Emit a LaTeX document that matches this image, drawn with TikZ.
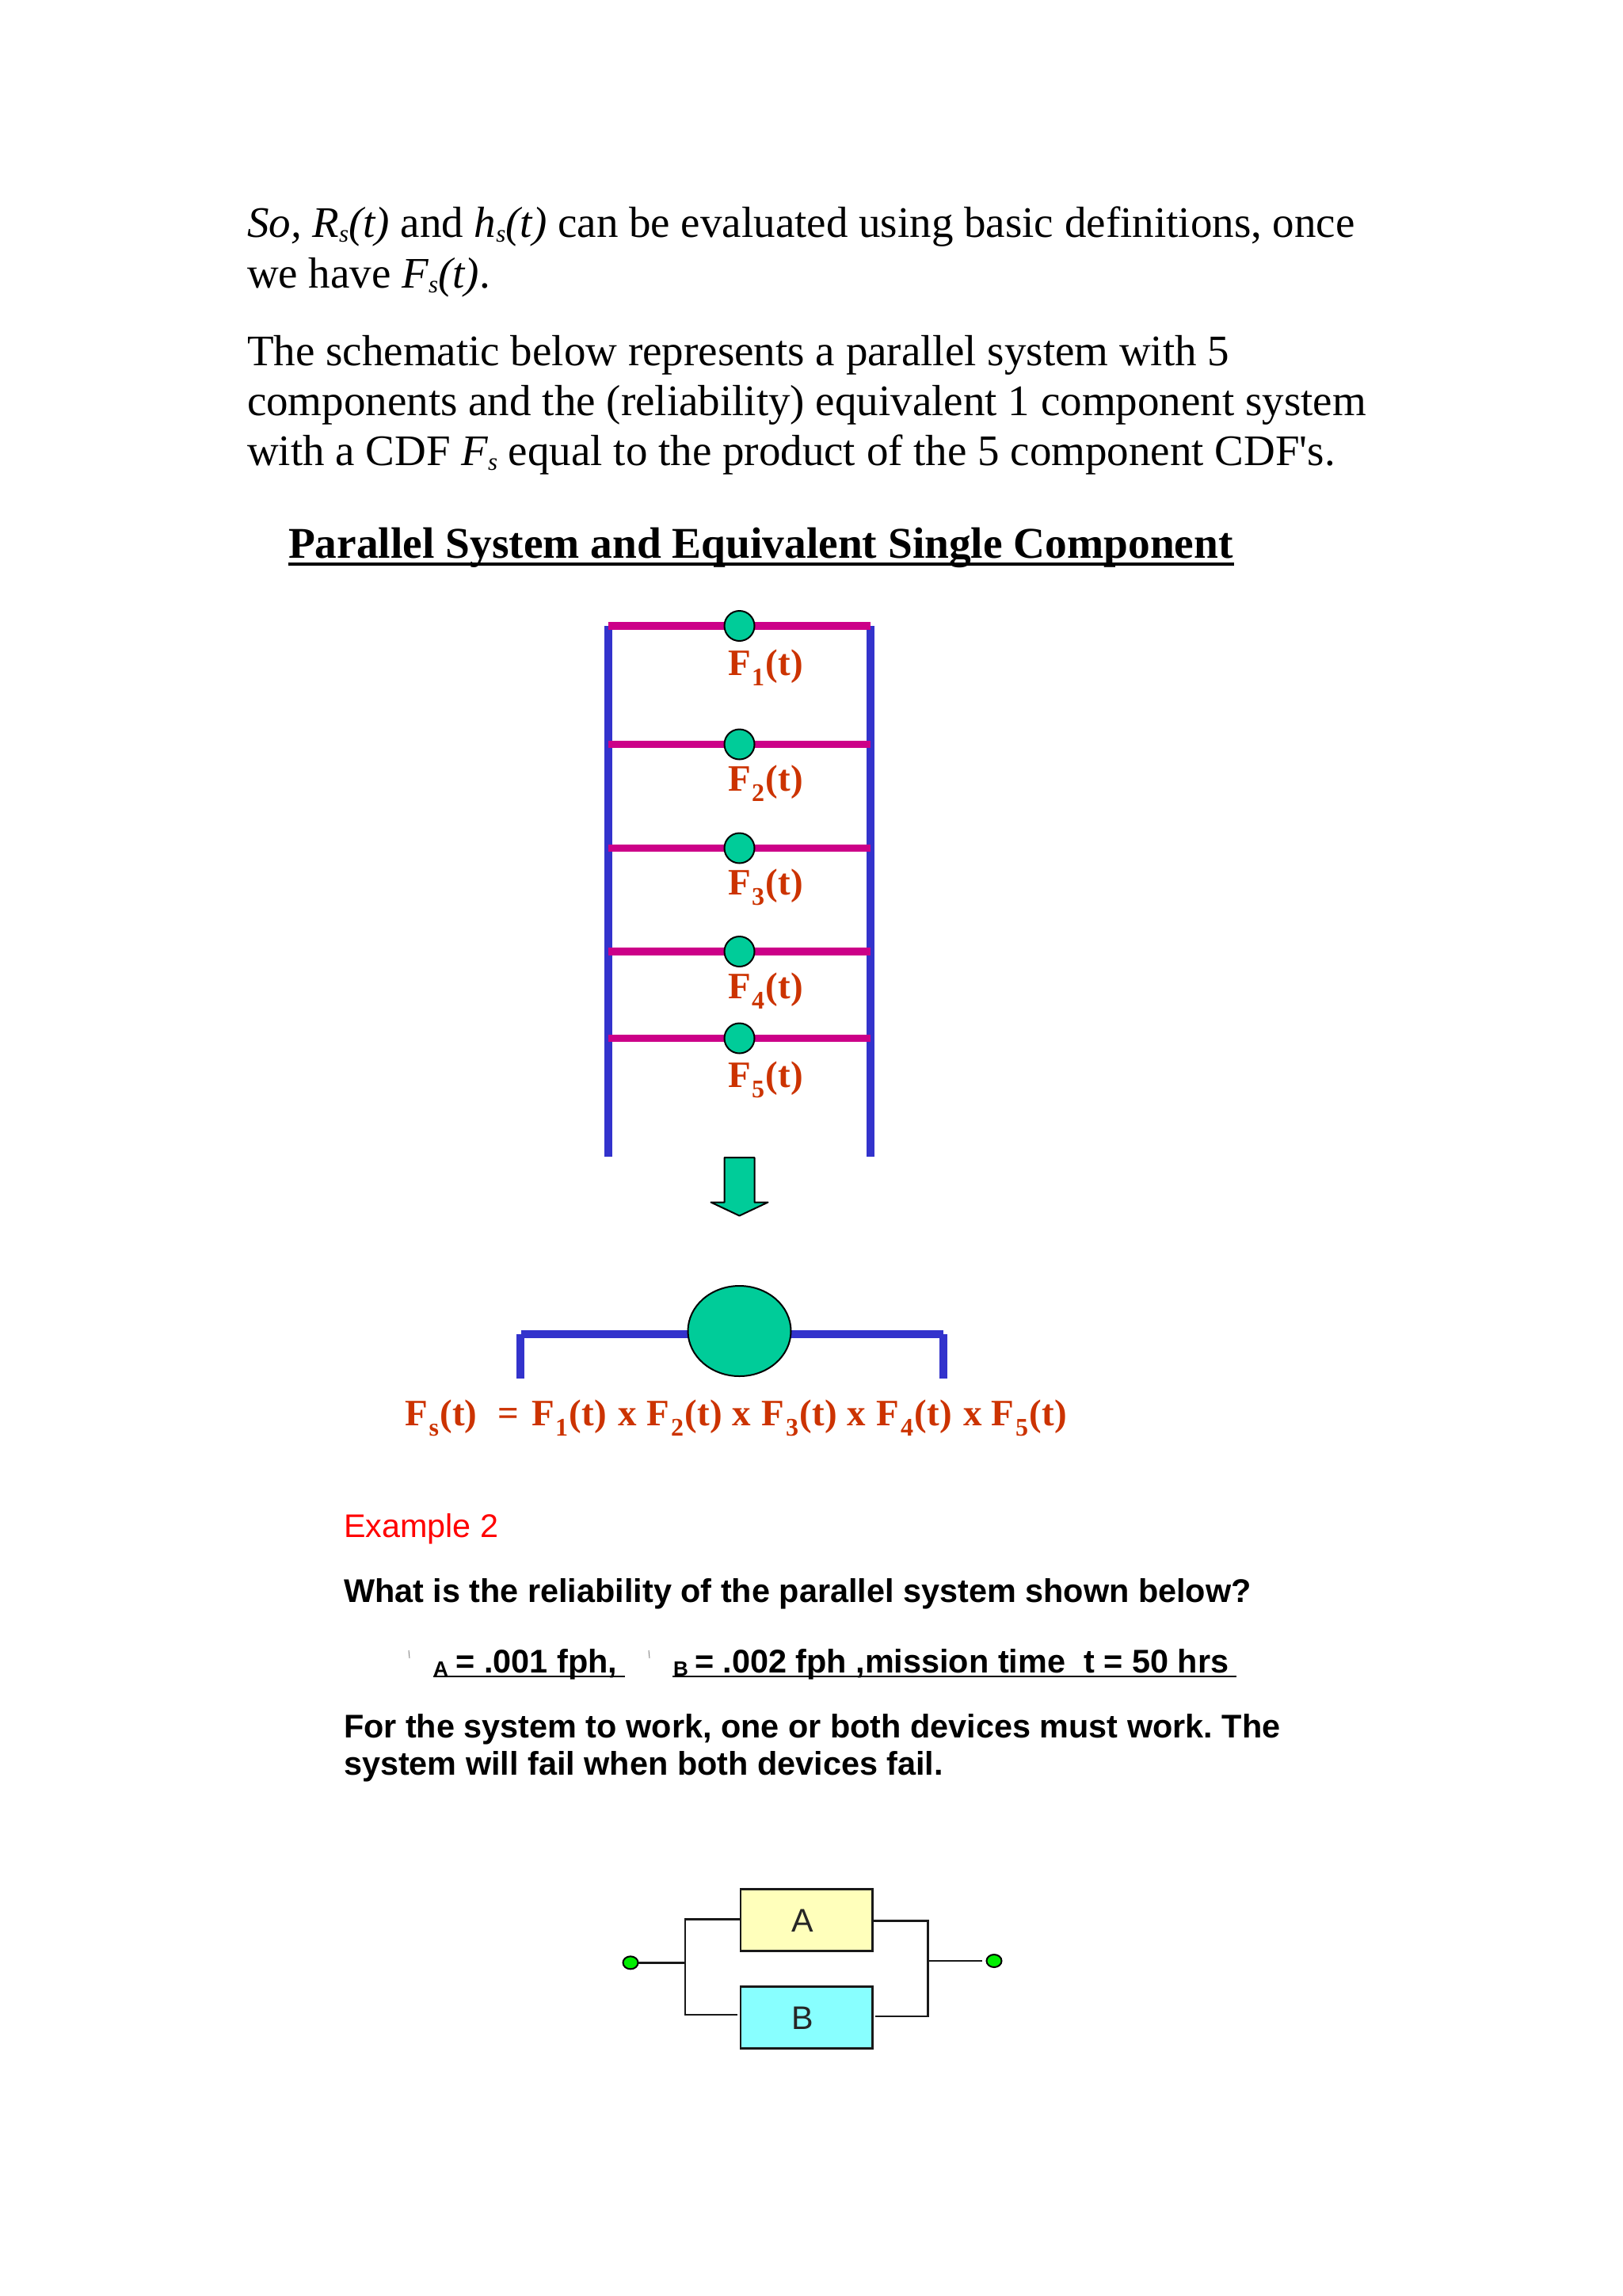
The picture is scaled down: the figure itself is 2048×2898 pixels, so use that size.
\documentclass[tikz,border=0pt]{standalone}
\usepackage{fontspec}
\setmainfont{Liberation Serif}
\setsansfont{Liberation Sans}
\usetikzlibrary{shapes.geometric}
\definecolor{railblue}{HTML}{3333CC}
\definecolor{rungpink}{HTML}{CC0088}
\definecolor{compgreen}{HTML}{00CC99}
\definecolor{labelred}{HTML}{CC3300}
\definecolor{boxyellow}{HTML}{FFFFBB}
\definecolor{boxcyan}{HTML}{88FFFF}
\definecolor{dotgreen}{HTML}{00EE00}
\newcommand{\subs}[1]{\raisebox{-6pt}{\fontsize{31}{31}\selectfont #1}}
\newcommand{\Ffn}[1]{F\kern1.5pt\raisebox{-13pt}{\fontsize{32}{32}\selectfont #1}\kern1.5pt(t)}
\newcommand{\seg}[2]{\makebox[#1pt][l]{#2}}
\tikzset{
  body/.style={anchor=base west,inner sep=0,outer sep=0,font=\fontsize{55}{63}\selectfont\frenchspacing},
  heading/.style={anchor=base west,inner sep=0,outer sep=0,font=\fontsize{55.4}{63}\selectfont\bfseries},
  sanstext/.style={anchor=base west,inner sep=0,outer sep=0,font=\fontsize{41.4}{48}\selectfont\sffamily\bfseries\frenchspacing},
  redtext/.style={anchor=base west,inner sep=0,outer sep=0,text=red,font=\fontsize{41.3}{48}\selectfont\sffamily},
  sublabel/.style={anchor=base west,inner sep=0,outer sep=0,font=\fontsize{26}{30}\selectfont\sffamily\bfseries},
  flabel/.style={anchor=base west,inner sep=0,outer sep=0,text=labelred,font=\fontsize{47}{50}\selectfont\bfseries},
  rail/.style={draw=railblue,line width=10pt},
  rung/.style={draw=rungpink,line width=9.5pt},
  comp/.style={ellipse,draw=black,fill=compgreen,line width=2pt,inner sep=0,outer sep=0,minimum width=38pt,minimum height=38pt},
  bigcomp/.style={comp,minimum width=130pt,minimum height=114pt},
  wire/.style={draw=black!90,line width=2.4pt},
  rbox/.style={draw=black!90,line width=2.6pt,inner sep=0,outer sep=0,minimum width=166.6pt,minimum height=78pt},
  rlabel/.style={anchor=base,inner sep=0,outer sep=0,text=black!85,font=\fontsize{41.3}{48}\selectfont\sffamily},
  dot/.style={ellipse,draw=black,fill=dotgreen,line width=2pt,inner sep=0,outer sep=0,minimum width=19pt,minimum height=16pt},
  tick/.style={draw=black!45,line width=1pt},
  uline/.style={draw=black,line width=2.6pt},
  tline/.style={draw=black,line width=4.5pt},
}
\begin{document}
\begin{tikzpicture}[x=1pt,y=-1pt]
\useasboundingbox (0,0) rectangle (2048,2898);
\fill[white] (0,0) rectangle (2048,2898);

% paragraph text
\node[body] (p1) at (312,299.5) {\textit{So, R\subs{s}(t)} and \textit{h\subs{s}(t)} can be evaluated using basic definitions, once};
\node[body] (p2) at (312,363.2) {we have \textit{F\subs{s}(t)}.};
\node[body] (p3) at (312,461) {The schematic below represents a parallel system with 5};
\node[body] (p4) at (312,524) {components and the (reliability) equivalent 1 component system};
\node[body] (p5) at (312,587.5) {with a CDF \textit{F\subs{s}} equal to the product of the 5 component CDF\textquotesingle s.};

% title
\node[heading] (title) at (364,704) {Parallel System and Equivalent Single Component};
\coordinate (tl) at (364,712);
\coordinate (tr) at (1557.5,712);
\draw[tline] (tl) -- (tr);

% ladder
\coordinate (railLt) at (767.7,790);
\coordinate (railLb) at (767.7,1460);
\coordinate (railRt) at (1098.7,790);
\coordinate (railRb) at (1098.7,1460);
\draw[rail] (railLt) -- (railLb);
\draw[rail] (railRt) -- (railRb);
\foreach \i/\y/\by in {1/790/852,2/939.5/998.5,3/1070.5/1129.5,4/1201/1260,5/1310.5/1372}{
  \coordinate (rl\i) at (767.7,\y);
  \coordinate (rr\i) at (1098.7,\y);
  \draw[rung] (rl\i) -- (rr\i);
  \node[comp] (c\i) at (933.5,\y) {};
  \node[flabel] (f\i) at (919,\by) {\Ffn{\i}};
}

% arrow
\draw[draw=black,fill=compgreen,line width=2pt,line join=round]
  (914.5,1461) -- (952.5,1461) -- (952.5,1517.5) -- (969.5,1517.5) -- (933.5,1534.5) -- (897.5,1517.5) -- (914.5,1517.5) -- cycle;

% equivalent component
\coordinate (eqLb) at (657,1740);
\coordinate (eqRb) at (1191,1740);
\coordinate (eqLt) at (657,1684);
\coordinate (eqRt) at (1191,1684);
\coordinate (eqHl) at (658,1684);
\coordinate (eqHr) at (1191,1684);
\draw[rail,line width=9.5pt] (eqLb) -- (eqLt);
\draw[rail,line width=9.5pt] (eqRb) -- (eqRt);
\draw[rail] (eqHl) -- (eqHr);
\node[bigcomp] (eq) at (933.5,1680) {};

% formula
\node[flabel] (formula) at (511.5,1799)
  {\seg{116.5}{\Ffn{s}}\seg{43}{=}\seg{110}{\Ffn{1}}\seg{36}{x}\seg{108}{\Ffn{2}}\seg{37}{x}\seg{108}{\Ffn{3}}\seg{37}{x}\seg{109.5}{\Ffn{4}}\seg{35.5}{x}\Ffn{5}};

% example text
\node[redtext] (ex) at (434,1940) {Example 2};
\node[sanstext] (q) at (434,2022.5) {What is the reliability of the parallel system shown below?};
\node[sublabel] (sa) at (547,2115.7) {A};
\node[sanstext] (va) at (575.6,2111.7) {= .001 fph,};
\node[sublabel] (sb) at (850,2115.7) {B};
\node[sanstext] (vb) at (877,2111.7) {= .002 fph ,mission time\hspace{11.5pt} t = 50 hrs};
\coordinate (ua) at (546.5,2116);
\coordinate (ub) at (789,2116);
\coordinate (uc) at (849.4,2116);
\coordinate (ud) at (1561,2116);
\draw[uline] (ua) -- (ub);
\draw[uline] (uc) -- (ud);
\coordinate (k1a) at (516,2083);
\coordinate (k1b) at (517,2093);
\coordinate (k2a) at (819,2083);
\coordinate (k2b) at (820,2093);
\draw[tick] (k1a) -- (k1b);
\draw[tick] (k2a) -- (k2b);
\node[sanstext] (w1) at (434,2193.5) {For the system to work, one or both devices must work. The};
\node[sanstext] (w2) at (434,2240.5) {system will fail when both devices fail.};

% reliability block diagram
\node[rbox,fill=boxyellow] (A) at (1018.3,2423.7) {};
\node[rbox,fill=boxcyan] (B) at (1018.3,2546.7) {};
\node[rlabel] (la) at (1013,2438) {A};
\node[rlabel] (lb) at (1013,2561.7) {B};
\node[dot] (dl) at (796,2477.3) {};
\node[dot] (dr) at (1255,2475) {};
\coordinate (jlt) at (864.7,2422.3);
\coordinate (jlm) at (864.7,2477.3);
\coordinate (jlb) at (864.7,2542.7);
\coordinate (bl) at (931,2542.7);
\coordinate (al) at (935,2422.3);
\coordinate (jrt) at (1171.5,2424.3);
\coordinate (jrm) at (1171.5,2475);
\coordinate (jrb) at (1171.5,2545);
\coordinate (ar) at (1102.6,2424.3);
\coordinate (br) at (1105.4,2545);
\coordinate (re) at (1239.7,2475);
\draw[wire] (al) -- (jlt) -- (jlb) -- (bl);
\draw[wire] (dl) -- (jlm);
\draw[wire] (ar) -- (jrt) -- (jrb) -- (br);
\draw[wire] (jrm) -- (re);
\end{tikzpicture}
\end{document}
